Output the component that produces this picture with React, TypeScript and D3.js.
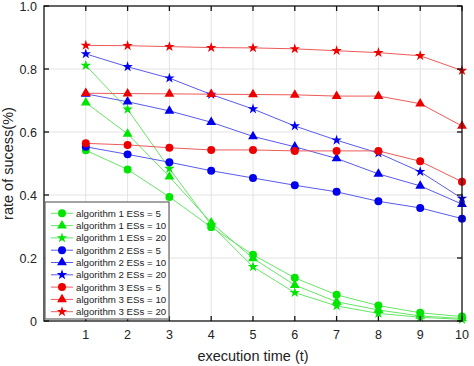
import * as d3 from 'd3';
import React from 'react';

// x axis values (execution time)
const times = [1, 2, 3, 4, 5, 6, 7, 8, 9, 10];
const yTicks = [0, 0.2, 0.4, 0.6, 0.8, 1.0];

// series values
const alg1Es5 = [0.542, 0.481, 0.394, 0.298, 0.21, 0.137, 0.083, 0.049, 0.026, 0.014];
const alg1Es10 = [0.693, 0.594, 0.458, 0.312, 0.199, 0.114, 0.061, 0.035, 0.016, 0.008];
const alg1Es20 = [0.811, 0.672, 0.484, 0.305, 0.172, 0.09, 0.048, 0.024, 0.012, 0.005];
const alg2Es5 = [0.553, 0.529, 0.504, 0.477, 0.454, 0.431, 0.41, 0.38, 0.359, 0.325];
const alg2Es10 = [0.721, 0.696, 0.667, 0.631, 0.586, 0.553, 0.516, 0.467, 0.429, 0.371];
const alg2Es20 = [0.848, 0.807, 0.771, 0.719, 0.673, 0.619, 0.574, 0.533, 0.474, 0.389];
const alg3Es5 = [0.564, 0.559, 0.55, 0.543, 0.543, 0.54, 0.54, 0.54, 0.507, 0.442];
const alg3Es10 = [0.723, 0.722, 0.721, 0.72, 0.719, 0.718, 0.714, 0.714, 0.69, 0.619];
const alg3Es20 = [0.875, 0.874, 0.871, 0.868, 0.867, 0.864, 0.858, 0.852, 0.842, 0.795];

const seriesNames = [
  'algorithm 1 ESs = 5', 'algorithm 1 ESs = 10', 'algorithm 1 ESs = 20',
  'algorithm 2 ESs = 5', 'algorithm 2 ESs = 10', 'algorithm 2 ESs = 20',
  'algorithm 3 ESs = 5', 'algorithm 3 ESs = 10', 'algorithm 3 ESs = 20',
];
const seriesValues = [alg1Es5, alg1Es10, alg1Es20, alg2Es5, alg2Es10, alg2Es20, alg3Es5, alg3Es10, alg3Es20];

const colors = ['#00e600', '#0000ee', '#ee0000'];
const lineColors = ['#66e666', '#5a5aee', '#ee5a5a'];
const shapes = [d3.symbolCircle, d3.symbolTriangle, d3.symbolStar];
const shapeSizes = [50, 42, 34];

const font = 'Liberation Sans, Arial, Helvetica, sans-serif';

function App() {
  const width = 474;
  const height = 366;
  const margin = { top: 6, right: 12, bottom: 45, left: 44 };

  const x = d3.scaleLinear().domain([0, 10]).range([margin.left, width - margin.right]);
  const y = d3.scaleLinear().domain([0, 1]).range([height - margin.bottom, margin.top]);

  const line = d3.line<number>()
    .x((d, i) => x(times[i]))
    .y((d) => y(d));

  const sym = (i: number) => d3.symbol().type(shapes[i % 3]).size(shapeSizes[i % 3])() || '';

  const x0 = x.range()[0], x1 = x.range()[1];
  const y0 = y.range()[0], y1 = y.range()[1];
  const tick = 5;

  const legend = { left: 45, top: 202, right: 169, bottom: 319, row0: 213.3, step: 12.3 };

  return (
    <svg width={width} height={height} style={{ position: 'absolute', left: 0, top: 0, background: '#fff' }}>
      {/* grid */}
      <g stroke="#e3e3e3" strokeWidth={1}>
        {times.slice(0, 9).map((t) => (
          <line key={'gx' + t} x1={x(t)} x2={x(t)} y1={y1} y2={y0} />
        ))}
        {yTicks.slice(1, 5).map((v) => (
          <line key={'gy' + v} x1={x0} x2={x1} y1={y(v)} y2={y(v)} />
        ))}
      </g>

      {/* series */}
      <g className="plot-area">
        {seriesValues.map((vals, si) => {
          const c = Math.floor(si / 3);
          return (
            <g key={seriesNames[si]}>
              <path d={line(vals) || ''} fill="none" stroke={lineColors[c]} strokeWidth={1} />
              {vals.map((v, i) => (
                <path key={i} d={sym(si)} transform={`translate(${x(times[i])},${y(v)})`} fill={colors[c]} />
              ))}
            </g>
          );
        })}
      </g>

      {/* frame and ticks */}
      <g stroke="#111" strokeWidth={1.3}>
        <rect x={x0} y={y1} width={x1 - x0} height={y0 - y1} fill="none" />
        {times.map((t) => (
          <g key={'tx' + t}>
            <line x1={x(t)} x2={x(t)} y1={y0} y2={y0 - tick} />
            <line x1={x(t)} x2={x(t)} y1={y1} y2={y1 + tick} />
          </g>
        ))}
        {yTicks.map((v) => (
          <g key={'ty' + v}>
            <line x1={x0} x2={x0 + tick} y1={y(v)} y2={y(v)} />
            <line x1={x1} x2={x1 - tick} y1={y(v)} y2={y(v)} />
          </g>
        ))}
      </g>

      {/* tick labels */}
      <g fontFamily={font} fontSize={12.5} fill="#222">
        {times.map((t) => (
          <text key={'lx' + t} x={x(t)} y={y0 + 18} textAnchor="middle">{t}</text>
        ))}
        {yTicks.map((v) => (
          <text key={'ly' + v} x={x0 - 7} y={y(v) + 4.5} textAnchor="end">{v === 0 ? '0' : v.toFixed(1)}</text>
        ))}
      </g>

      {/* axis titles */}
      <text x={(x0 + x1) / 2} y={361} textAnchor="middle" fontFamily={font} fontSize={14.5} fill="#222">
        execution time (t)
      </text>
      <text transform={`translate(13,${(y0 + y1) / 2}) rotate(-90)`} textAnchor="middle" fontFamily={font} fontSize={14.5} fill="#222">
        rate of sucess(%)
      </text>

      {/* legend */}
      <g>
        <rect x={legend.left} y={legend.top} width={legend.right - legend.left} height={legend.bottom - legend.top}
          fill="#fff" stroke="#666" strokeWidth={1.2} />
        {seriesNames.map((name, si) => {
          const c = Math.floor(si / 3);
          const cy = legend.row0 + si * legend.step;
          return (
            <g key={'lg' + si}>
              <line x1={51} x2={73} y1={cy} y2={cy} stroke={lineColors[c]} strokeWidth={1} />
              <path d={sym(si)} transform={`translate(62,${cy})`} fill={colors[c]} />
              <text x={76} y={cy + 3.5} fontFamily={font} fontSize={9.7} fill="#222">{name}</text>
            </g>
          );
        })}
      </g>
    </svg>
  );
}

export default App;
